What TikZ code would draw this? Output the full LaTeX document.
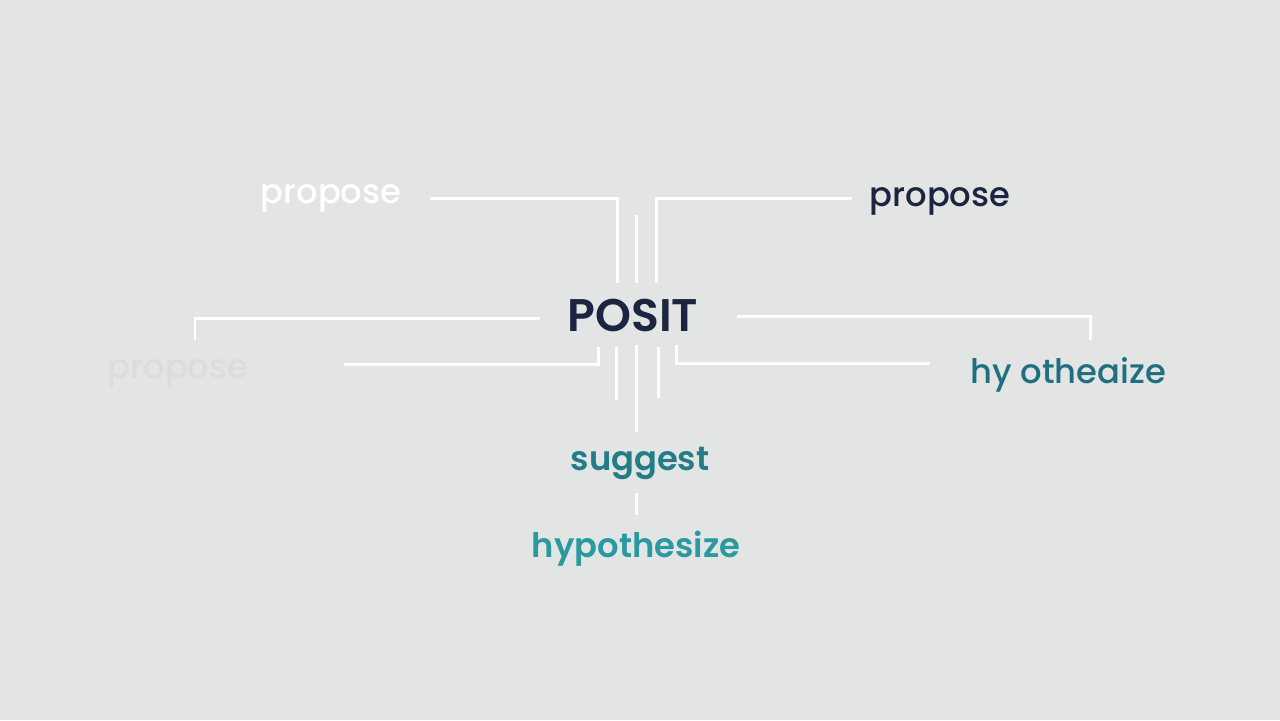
\documentclass[tikz,border=0pt]{standalone}
\usepackage{fontspec}
\setmainfont{Poppins}[UprightFont={* Medium}, BoldFont={* SemiBold}]
\definecolor{bg}{HTML}{E3E5E4}
\definecolor{navy}{HTML}{1B2440}
\definecolor{tealdk}{HTML}{1F6F80}
\definecolor{tealmd}{HTML}{237C88}
\definecolor{teallt}{HTML}{2B9AA0}
\definecolor{ghost}{HTML}{DADDDC}
\tikzstyle{word}=[inner sep=0pt, anchor=base, font=\fontsize{9.6}{11}\selectfont]
\tikzstyle{wire}=[white, line width=0.85pt]

\begin{document}
\begin{tikzpicture}[x=0.01cm, y=-0.01cm]
\fill[bg] (0,0) rectangle (1280,720);
\node[word, text=white] at (331,203) (propTL) {propose};
\node[word, text=navy] at (940,206) (propTR) {propose};
\node[word, text=navy, font=\bfseries\fontsize{13}{15}\selectfont] at (633,331) (posit) {POSIT};
\node[word, text=ghost] at (178,378) (propL) {propose};
\node[word, text=tealdk] at (1068,383) (hyoth) {hy otheaize};
\node[word, text=tealmd, font=\bfseries\fontsize{9.6}{11}\selectfont] at (640,470) (sugg) {suggest};
\node[word, text=teallt, font=\bfseries\fontsize{9.6}{11}\selectfont] at (636,557) (hypo) {hypothesize};
\coordinate (a1) at (430,198); \coordinate (a2) at (617,283);
\coordinate (b1) at (636,215); \coordinate (b2) at (636,283);
\coordinate (c1) at (656,283); \coordinate (c2) at (852,198);
\coordinate (d1) at (195,340); \coordinate (d2) at (540,318);
\coordinate (e1) at (737,316); \coordinate (e2) at (1090,340);
\coordinate (f1) at (344,364); \coordinate (f2) at (598,347);
\coordinate (g1) at (616,347); \coordinate (g2) at (616,400);
\coordinate (h1) at (636,345); \coordinate (h2) at (636,432);
\coordinate (i1) at (658,347); \coordinate (i2) at (658,398);
\coordinate (j1) at (676,345); \coordinate (j2) at (930,363);
\coordinate (k1) at (636,493); \coordinate (k2) at (636,515);
\draw[wire] (a1) -| (a2);
\draw[wire] (b1) -- (b2);
\draw[wire] (c1) |- (c2);
\draw[wire] (d1) |- (d2);
\draw[wire] (e1) -| (e2);
\draw[wire] (f1) -| (f2);
\draw[wire] (g1) -- (g2);
\draw[wire] (h1) -- (h2);
\draw[wire] (i1) -- (i2);
\draw[wire] (j1) |- (j2);
\draw[wire] (k1) -- (k2);
\end{tikzpicture}
\end{document}
